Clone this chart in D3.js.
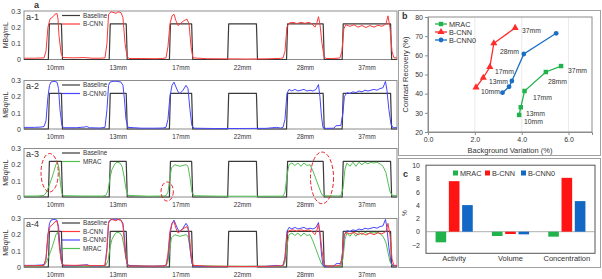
<!DOCTYPE html>
<html>
<head>
<meta charset="utf-8">
<script src="https://cdn.jsdelivr.net/npm/d3@7"></script>
<style>
  body { margin: 0; background: #fff; }
  svg text { font-family: "Liberation Sans", Arial, sans-serif; fill: #333; }
</style>
</head>
<body>
<script>
// ---- panel a: line profiles through the spheres (mm along profile, MBq/mL)
const sphereLabels = ["10mm", "13mm", "17mm", "22mm", "28mm", "37mm"];
const sphereDiameters = [10, 13, 17, 22, 28, 37];
const sphereCentres = [24, 72, 120, 167, 215, 262];
const baselineActivity = 0.22;
const yTicksA = [0, 0.1, 0.2, 0.3];

const bcnnProfile = [[0,0.008],[8,0.008],[15.3,0.01],[16.8,0.05],[18.3,0.2],[19.9,0.25],[22.2,0.265],[23.7,0.28],[25.2,0.285],[26.0,0.25],[26.7,0.15],[28.3,0.04],[29.8,0.012],
  [38,0.01],[46,0.012],[52,0.008],[58,0.008],
  [61.9,0.01],[63.4,0.1],[64.6,0.28],[66.5,0.295],[68.8,0.29],[70.3,0.285],[71.8,0.295],[74.1,0.29],[75.6,0.26],[77.2,0.1],[78.7,0.02],[80.2,0.006],
  [90,0.006],[100,0.005],[106,0.006],
  [108.5,0.01],[110.0,0.08],[111.5,0.22],[113.1,0.27],[114.6,0.28],[116.1,0.24],[117.7,0.21],[119.9,0.225],[122.2,0.24],[124.5,0.25],[126.1,0.22],[127.6,0.08],[129.1,0.01],
  [140,0.005],[155,0.004],[170,0.003],[185,0.004],[196,0.007],
  [197.9,0.01],[199.4,0.05],[200.9,0.2],[202.5,0.225],[205.5,0.23],[208.6,0.222],[211.6,0.23],[214.7,0.224],[217.7,0.23],[220.0,0.22],[222.3,0.2],[223.9,0.23],[225.0,0.265],[226.1,0.22],[227.7,0.1],[229.2,0.02],[230.7,0.006],
  [236,0.006],[240,0.008],
  [241.4,0.01],[242.9,0.05],[244.4,0.19],[245.9,0.215],[249.0,0.205],[252.1,0.215],[255.2,0.2],[258.2,0.21],[261.3,0.198],[264.3,0.21],[267.4,0.2],[270.5,0.212],[273.5,0.205],[276.6,0.22],[278.1,0.27],[279.6,0.2],[281.2,0.05],[282.7,0.01],[285,0.01]];

const bcnn0Profile = [[0,0.01],[8,0.01],[13,0.012],[15.3,0.015],[16.8,0.05],[18.3,0.2],[19.5,0.27],[20.6,0.29],[22.9,0.295],[25.2,0.29],[26.4,0.25],[27.5,0.12],[29.0,0.02],[30.6,0.008],
  [40,0.008],[46,0.012],[48,0.015],[50,0.008],[58,0.006],
  [61.9,0.01],[63.4,0.12],[64.6,0.27],[65.7,0.29],[68.0,0.295],[71.0,0.295],[74.1,0.29],[75.6,0.27],[76.8,0.18],[77.9,0.06],[79.5,0.01],
  [90,0.005],[100,0.005],[106,0.006],
  [108.5,0.01],[110.0,0.06],[111.5,0.2],[113.1,0.27],[114.6,0.29],[116.1,0.26],[117.7,0.23],[119.2,0.22],[121.5,0.24],[123.8,0.27],[125.3,0.25],[126.8,0.12],[128.3,0.02],[129.9,0.005],
  [145,0.003],[165,0.003],[185,0.004],[193,0.01],[196,0.006],
  [197.9,0.01],[199.4,0.06],[200.9,0.22],[202.5,0.245],[204.7,0.235],[207.0,0.245],[209.3,0.235],[211.6,0.24],[213.9,0.245],[216.2,0.235],[218.5,0.24],[220.8,0.235],[223.1,0.245],[225.0,0.275],[226.1,0.2],[227.3,0.08],[228.4,0.01],[230.7,0.004],
  [236.8,0.005],[238.3,0.02],[242.1,0.022],
  [243.7,0.1],[244.8,0.2],[246.7,0.225],[249.0,0.22],[251.4,0.23],[253.6,0.225],[255.9,0.235],[258.2,0.23],[260.5,0.24],[262.8,0.235],[265.1,0.24],[267.4,0.245],[269.7,0.24],[272.0,0.25],[274.3,0.255],[276.2,0.295],[277.3,0.24],[278.8,0.12],[280.4,0.03],[281.9,0.008],[285,0.008]];

const mracProfile = [[0,0.006],[10,0.006],[15.3,0.01],[17.2,0.03],[19.1,0.07],[21.0,0.11],[22.9,0.16],[24.4,0.2],[25.6,0.215],[26.7,0.18],[27.9,0.08],[29.0,0.02],[30.6,0.008],
  [45,0.006],[60,0.006],
  [62.6,0.01],[64.2,0.04],[65.7,0.12],[67.2,0.17],[69.5,0.205],[71.0,0.215],[73.3,0.21],[74.9,0.19],[76.4,0.13],[77.9,0.05],[79.5,0.01],
  [95,0.005],[106,0.006],
  [108.5,0.008],[110.0,0.03],[111.5,0.12],[112.7,0.18],[113.8,0.19],[115.4,0.2],[116.9,0.195],[119.2,0.19],[121.5,0.195],[123.8,0.2],[125.3,0.19],[126.8,0.12],[128.3,0.03],[129.9,0.008],
  [150,0.005],[175,0.005],[196,0.005],
  [197.9,0.005],[199.4,0.03],[200.9,0.13],[202.5,0.2],[204.7,0.21],[207.0,0.195],[209.3,0.21],[211.6,0.19],[213.9,0.21],[216.2,0.195],[218.5,0.2],[220.8,0.16],[223.1,0.11],[225.4,0.06],[227.0,0.025],[228.4,0.008],
  [240,0.006],
  [242.1,0.008],[243.7,0.05],[245.2,0.17],[246.7,0.21],[249.0,0.19],[251.4,0.215],[253.6,0.19],[255.9,0.215],[258.2,0.2],[260.5,0.215],[262.8,0.205],[265.1,0.215],[267.4,0.21],[269.7,0.215],[272.0,0.205],[274.3,0.19],[276.6,0.15],[278.1,0.09],[279.6,0.035],[281.2,0.01],[285,0.008]];

// dashed marks in a-3: centre mm, centre value, half width mm, half height value
const mracCallouts = [[19.6, 0.15, 6.6, 0.119], [109.4, 0.034, 4.7, 0.059], [227.7, 0.118, 8.8, 0.16]];

// ---- panel b: contrast recovery vs background variation (%)
const bSpheres = ["10mm", "13mm", "17mm", "28mm", "37mm"];
const mracBV = [3.89, 3.96, 4.12, 5.03, 5.68];
const mracCR = [28.9, 32.9, 41.4, 51.3, 54.4];
const bcnnBV = [2.05, 2.36, 2.64, 2.81, 3.72];
const bcnnCR = [43.3, 48.3, 53.9, 66.3, 74.3];
const bcnn0BV = [3.18, 3.46, 3.58, 4.09, 5.47];
const bcnn0CR = [40.5, 43.6, 46.6, 60.7, 71.5];
// label anchors (BV, CR) for the sphere names
const cnnLabelBV = [2.26, 2.60, 2.86, 3.07, 4.01];
const cnnLabelCR = [40.9, 46.1, 51.3, 61.7, 72.7];
const mracLabelBV = [4.10, 4.18, 4.48, 5.12, 5.98];
const mracLabelCR = [25.2, 29.4, 37.7, 46.1, 51.8];

// ---- panel c: errors (%)
const metricCats = ["Activity", "Volume", "Concentration"];
const mracErr = [-1.6, -0.65, -0.75];
const bcnnErr = [7.6, -0.35, 8.1];
const bcnn0Err = [4.0, -0.4, 4.6];

const W = 602, H = 279;
const svg = d3.select("body").append("svg").attr("width", W).attr("height", H);

const colA = { base: "#3a3a3a", red: "#ff3838", blue: "#4646ff", green: "#52bf52" };
const colB = { green: "#22b24c", red: "#ff2a2a", blue: "#1a6fc4" };

/* ================= PANEL A ================= */
const xA = d3.scaleLinear().domain([0, 285]).range([24, 397]);

const baselineProfile = [[0, 0]];
sphereCentres.forEach((c, i) => {
  const r = sphereDiameters[i] / 2;
  baselineProfile.push([c - r - 0.4, 0], [c - r + 0.4, baselineActivity], [c + r - 0.4, baselineActivity], [c + r + 0.4, 0]);
});
baselineProfile.push([285, 0]);

const aPanels = [
  { name: "a-1", top: 11, series: [["Baseline", baselineProfile, colA.base], ["B-CNN", bcnnProfile, colA.red]] },
  { name: "a-2", top: 80.5, series: [["Baseline", baselineProfile, colA.base], ["B-CNN0", bcnn0Profile, colA.blue]] },
  { name: "a-3", top: 148.5, series: [["Baseline", baselineProfile, colA.base], ["MRAC", mracProfile, colA.green]] },
  { name: "a-4", top: 218.5, series: [["Baseline", baselineProfile, colA.base], ["B-CNN", bcnnProfile, colA.red],
      ["B-CNN0", bcnn0Profile, colA.blue], ["MRAC", mracProfile, colA.green]] }
];
const aH = 48.5;

svg.append("text").attr("x", 34).attr("y", 8).attr("font-size", 9).attr("font-weight", "bold").text("a");

aPanels.forEach(p => {
  const yA = d3.scaleLinear().domain([0, 0.3]).range([p.top + aH, p.top]);
  const g = svg.append("g");

  g.append("rect").attr("x", xA(0)).attr("y", yA(0.3)).attr("width", xA(285) - xA(0)).attr("height", yA(0) - yA(0.3))
    .attr("fill", "none").attr("stroke", "#8c8c8c").attr("stroke-width", 1);

  const ax = g.append("g").attr("transform", `translate(${xA(0)},0)`)
    .call(d3.axisLeft(yA).tickValues(yTicksA).tickSize(0).tickPadding(3).tickFormat(d => d === 0 ? "0" : d3.format(".1f")(d)));
  ax.select(".domain").remove();
  ax.selectAll("text").attr("font-size", 7).attr("fill", "#333").style("font-family", "Liberation Sans, Arial, sans-serif");

  g.append("text").attr("transform", `translate(8,${p.top + aH / 2}) rotate(-90)`)
    .attr("text-anchor", "middle").attr("font-size", 7).text("MBq/mL");

  g.selectAll("text.xl").data(sphereLabels).join("text").attr("class", "xl")
    .attr("x", (d, i) => xA(sphereCentres[i])).attr("y", yA(0) + 8).attr("dy", "0.35em")
    .attr("text-anchor", "middle").attr("font-size", 6.3).text(d => d);

  const line = d3.line().x(d => xA(d[0])).y(d => yA(d[1]));
  // draw baseline first, then the others with red last
  const order = p.series.length === 4 ? [0, 3, 2, 1] : [0, 1];
  order.forEach(k => {
    const s = p.series[k];
    g.append("path").attr("d", line(s[1])).attr("fill", "none").attr("stroke", s[2])
      .attr("stroke-width", k === 0 ? 1.2 : 1).attr("stroke-linejoin", "round");
  });

  g.append("text").attr("x", 26).attr("y", p.top + 5.5).attr("dy", "0.35em").attr("font-size", 9).text(p.name);

  const leg = g.selectAll("g.leg").data(p.series).join("g").attr("class", "leg")
    .attr("transform", (d, i) => `translate(62,${p.top + 4.5 + i * 8.5})`);
  leg.append("line").attr("x1", 0).attr("x2", 18).attr("stroke", d => d[2]).attr("stroke-width", 1.2);
  leg.append("text").attr("x", 21).attr("dy", "0.35em").attr("font-size", 6.3).text(d => d[0]);

  if (p.name === "a-3") {
    g.selectAll("ellipse").data(mracCallouts).join("ellipse")
      .attr("cx", d => xA(d[0])).attr("cy", d => yA(d[1]))
      .attr("rx", d => xA(d[2]) - xA(0)).attr("ry", d => yA(0) - yA(d[3]))
      .attr("fill", "none").attr("stroke", "#e8202a").attr("stroke-width", 1).attr("stroke-dasharray", "4,2");
  }
});

/* ================= PANEL B ================= */
svg.append("rect").attr("x", 398.5).attr("y", 10.5).attr("width", 202).attr("height", 145)
  .attr("fill", "none").attr("stroke", "#a0a0a0");
svg.append("text").attr("x", 402).attr("y", 19).attr("font-size", 9).attr("font-weight", "bold").text("b");

const xB = d3.scaleLinear().domain([0, 7]).range([428, 592]);
const yB = d3.scaleLinear().domain([20, 80]).range([132, 17]);
const gb = svg.append("g");

gb.selectAll("line.grid").data([2, 4, 6]).join("line").attr("class", "grid")
  .attr("x1", d => xB(d)).attr("x2", d => xB(d)).attr("y1", yB(80)).attr("y2", yB(20))
  .attr("stroke", "#e4e4e4").attr("stroke-width", 0.8);
gb.append("rect").attr("x", xB(0)).attr("y", yB(80)).attr("width", xB(7) - xB(0)).attr("height", yB(20) - yB(80))
  .attr("fill", "none").attr("stroke", "#8c8c8c");

const ayB = gb.append("g").attr("transform", `translate(${xB(0)},0)`)
  .call(d3.axisLeft(yB).tickValues(d3.range(20, 81, 10)).tickSize(3).tickPadding(2));
const axB = gb.append("g").attr("transform", `translate(0,${yB(20)})`)
  .call(d3.axisBottom(xB).tickValues([0, 2, 4, 6]).tickSize(3).tickPadding(2));
[ayB, axB].forEach(a => {
  a.select(".domain").attr("stroke", "#8c8c8c");
  a.selectAll("line").attr("stroke", "#8c8c8c");
  a.selectAll("text").attr("font-size", 7).attr("fill", "#333").style("font-family", "Liberation Sans, Arial, sans-serif");
});
gb.append("text").attr("x", (xB(0) + xB(7)) / 2).attr("y", 150).attr("dy", "0.35em")
  .attr("text-anchor", "middle").attr("font-size", 7.5).text("Background Variation (%)");
gb.append("text").attr("transform", `translate(408,${(yB(20) + yB(80)) / 2}) rotate(-90)`)
  .attr("text-anchor", "middle").attr("font-size", 7.5).text("Contrast Recovery (%)");

const bSeries = [
  { name: "MRAC", bv: mracBV, cr: mracCR, color: colB.green, sym: d3.symbolSquare, size: 20 },
  { name: "B-CNN", bv: bcnnBV, cr: bcnnCR, color: colB.red, sym: d3.symbolTriangle, size: 22 },
  { name: "B-CNN0", bv: bcnn0BV, cr: bcnn0CR, color: colB.blue, sym: d3.symbolCircle, size: 18 }
];
bSeries.forEach(s => {
  const pts = s.bv.map((v, i) => [v, s.cr[i]]);
  gb.append("path").attr("d", d3.line().x(d => xB(d[0])).y(d => yB(d[1]))(pts))
    .attr("fill", "none").attr("stroke", s.color).attr("stroke-width", 1.3);
  gb.selectAll(null).data(pts).join("path")
    .attr("transform", d => `translate(${xB(d[0])},${yB(d[1])})`)
    .attr("d", d3.symbol().type(s.sym).size(s.size)).attr("fill", s.color);
});

const legB = gb.selectAll("g.legb").data(bSeries).join("g").attr("class", "legb")
  .attr("transform", (d, i) => `translate(435,${24 + i * 8})`);
legB.append("line").attr("x1", 0).attr("x2", 12).attr("stroke", d => d.color).attr("stroke-width", 1.3);
legB.append("path").attr("transform", "translate(6,0)").attr("d", d => d3.symbol().type(d.sym).size(d.size)()).attr("fill", d => d.color);
legB.append("text").attr("x", 14).attr("dy", "0.35em").attr("font-size", 7.3).text(d => d.name);

gb.selectAll("text.lc").data(bSpheres).join("text").attr("class", "lc")
  .attr("x", (d, i) => xB(cnnLabelBV[i])).attr("y", (d, i) => yB(cnnLabelCR[i])).attr("dy", "0.35em")
  .attr("font-size", 6.8).text(d => d);
gb.selectAll("text.lm").data(bSpheres).join("text").attr("class", "lm")
  .attr("x", (d, i) => xB(mracLabelBV[i])).attr("y", (d, i) => yB(mracLabelCR[i])).attr("dy", "0.35em")
  .attr("font-size", 6.8).text(d => d);

/* ================= PANEL C ================= */
svg.append("rect").attr("x", 398.5).attr("y", 158.5).attr("width", 202).attr("height", 109)
  .attr("fill", "none").attr("stroke", "#a0a0a0");
svg.append("text").attr("x", 403).attr("y", 177).attr("font-size", 9).attr("font-weight", "bold").text("c");

const x0 = d3.scaleBand().domain(metricCats).range([426, 595]);
const cSeries = [
  { name: "MRAC", vals: mracErr, color: colB.green },
  { name: "B-CNN", vals: bcnnErr, color: "#ff1414" },
  { name: "B-CNN0", vals: bcnn0Err, color: "#1268c4" }
];
const x1 = d3.scaleBand().domain(cSeries.map(d => d.name))
  .range([x0.bandwidth() * 0.17, x0.bandwidth() * 0.83]).paddingInner(0.2);
const yC = d3.scaleLinear().domain([-3.25, 10]).range([253.3, 165.2]);
const gc = svg.append("g");

gc.append("rect").attr("x", x0.range()[0]).attr("y", yC(10)).attr("width", x0.range()[1] - x0.range()[0])
  .attr("height", yC(-3.25) - yC(10)).attr("fill", "none").attr("stroke", "#555").attr("stroke-width", 1);
gc.append("line").attr("x1", x0.range()[0]).attr("x2", x0.range()[1]).attr("y1", yC(0)).attr("y2", yC(0))
  .attr("stroke", "#9a9a9a").attr("stroke-width", 0.8);

const ayC = gc.append("g").attr("transform", `translate(${x0.range()[0]},0)`)
  .call(d3.axisLeft(yC).tickValues(d3.range(-2, 11, 2)).tickSize(0).tickPadding(6));
ayC.select(".domain").remove();
ayC.selectAll("text").attr("font-size", 7).attr("fill", "#333").style("font-family", "Liberation Sans, Arial, sans-serif");
gc.append("text").attr("transform", `translate(407,213) rotate(-90)`).attr("text-anchor", "middle")
  .attr("font-size", 6.5).text("%");

cSeries.forEach(s => {
  gc.selectAll(null).data(metricCats).join("rect")
    .attr("x", d => x0(d) + x1(s.name)).attr("width", x1.bandwidth())
    .attr("y", (d, i) => yC(Math.max(0, s.vals[i])))
    .attr("height", (d, i) => Math.abs(yC(s.vals[i]) - yC(0)))
    .attr("fill", s.color);
});

gc.selectAll("text.cat").data(metricCats).join("text").attr("class", "cat")
  .attr("x", d => x0(d) + x0.bandwidth() / 2).attr("y", 258.5).attr("dy", "0.35em")
  .attr("text-anchor", "middle").attr("font-size", 7.5).text(d => d);

const legCx = [453, 485, 521];
const legC = gc.selectAll("g.legc").data(cSeries).join("g").attr("class", "legc")
  .attr("transform", (d, i) => `translate(${legCx[i]},173)`);
legC.append("rect").attr("x", 0).attr("y", -2.5).attr("width", 5).attr("height", 5).attr("fill", d => d.color);
legC.append("text").attr("x", 7).attr("dy", "0.35em").attr("font-size", 7.3).text(d => d.name);
</script>
</body>
</html>
